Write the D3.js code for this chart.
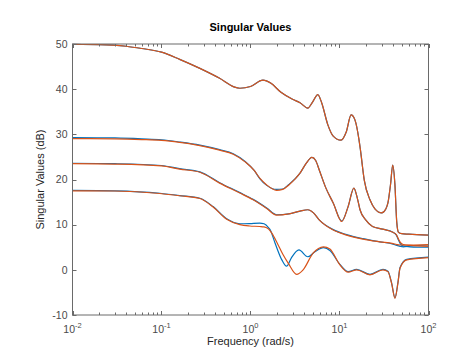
<!DOCTYPE html>
<html><head><meta charset="utf-8">
<script src="https://cdn.jsdelivr.net/npm/d3@7"></script>
<style>body{margin:0;background:#fff}</style>
</head><body>
<svg id="c" width="474" height="355"></svg>
<script>
// ---- data ----
const yTicks = [-10, 0, 10, 20, 30, 40, 50];
const xTicks = [0.01, 0.1, 1, 10, 100];
const xTickExp = ["-2", "-1", "0", "1", "2"];

// curve 1 (top)
const f1 = [0.01,0.02,0.04,0.06,0.1,0.16,0.27,0.45,0.65,0.76,1.0,1.38,1.7,2.2,3.0,3.6,4.4,5.0,5.7,6.3,7.4,8.5,10.4,11.9,13.5,14.9,16.5,17.2,19,22,25,29.8,33,35,37.5,39.6,41.9,44,46,50,60,100];
const s1Blue   = [49.9,49.85,49.5,49.0,48.2,46.6,44.6,42.4,40.5,40.2,40.6,42.0,41.3,39.3,37.7,37.0,35.8,37.2,38.8,37.0,32.1,29.6,28.7,30.5,34.3,33.2,29.0,26.5,19.8,15.5,13.5,12.6,13.4,14.8,19.0,23.2,19.0,10.5,8.3,8.0,7.9,7.7];
const s1Orange = [49.9,49.85,49.5,49.0,48.2,46.6,44.6,42.4,40.5,40.2,40.6,42.0,41.3,39.3,37.7,37.0,35.8,37.2,38.8,37.0,32.1,29.6,28.7,30.5,34.3,33.2,29.0,26.5,19.8,15.5,13.5,12.6,13.4,14.8,19.0,23.2,19.0,10.5,8.3,8.0,7.9,7.7];

// curve 2
const f2 = [0.01,0.03,0.06,0.1,0.16,0.27,0.45,0.64,0.87,1.1,1.27,1.52,1.96,2.3,2.7,3.6,4.2,4.9,5.4,5.95,7,8.5,10.6,12.5,14.5,15.8,17,19.8,23.5,30.5,39.8,43.5,46,48.5,52,62,100];
const s2Blue   = [29.3,29.2,29.0,28.8,28.3,27.6,26.6,25.7,24.0,22.0,20.2,18.7,17.8,17.9,18.9,21.4,23.5,24.9,24.2,22.0,18.2,14.8,10.8,14.0,18.1,16.0,13.3,11.0,9.6,9.0,8.3,7.7,6.6,5.7,5.3,5.1,5.0];
const s2Orange = [29.05,29.0,28.85,28.65,28.2,27.5,26.5,25.6,23.9,22.0,20.3,18.8,17.6,17.8,18.8,21.4,23.5,24.9,24.2,22.0,18.2,14.8,10.7,14.0,18.1,16.0,13.3,11.0,9.6,9.0,8.3,7.8,6.8,6.0,5.6,5.4,5.2];

// curve 3
const f3 = [0.01,0.03,0.1,0.16,0.27,0.45,0.76,1.07,1.52,1.96,2.7,3.6,4.4,5.1,5.95,8.5,12,18.4,28.4,40,44,48,52,62,100];
const s3Blue   = [23.6,23.5,23.1,22.4,21.7,19.3,17.1,15.6,13.7,12.2,12.4,13.0,13.3,12.6,11.0,8.9,7.8,6.9,6.2,5.7,5.4,5.2,5.1,5.3,5.5];
const s3Orange = [23.5,23.4,23.0,22.3,21.6,19.2,17.0,15.5,13.6,12.1,12.4,13.0,13.3,12.6,11.0,8.8,7.7,6.8,6.2,5.8,5.6,5.5,5.5,5.5,5.6];

// curve 4
const f4Blue = [0.01,0.03,0.096,0.16,0.27,0.38,0.54,0.76,0.98,1.27,1.42,1.6,1.67,1.89,2.25,2.54,2.87,3.5,4.4,5.3,6.6,7.8,10.1,12.5,15.6,22,30.8,35,38.5,42,45.3,47.9,57,100];
const s4Blue = [17.6,17.5,16.95,16.45,15.85,14.0,11.3,10.2,10.25,10.35,10.2,9.3,8.8,5.9,2.2,0.8,2.6,4.4,2.9,4.0,4.9,4.3,1.2,-0.4,0.1,-1.0,0.1,-0.3,-2.9,-6.2,-2.9,0.5,2.3,2.8];
const f4Orange = [0.01,0.03,0.096,0.16,0.27,0.38,0.54,0.76,0.98,1.27,1.42,1.6,1.75,2.0,2.3,2.65,3.3,3.9,5.05,6.6,7.8,10.1,12.5,15.6,22,30.8,35,38.5,42,45.3,47.9,57,100];
const s4Orange = [17.5,17.45,16.9,16.4,15.8,13.9,11.2,10.0,9.7,9.6,9.5,9.0,8.0,5.9,3.5,1.5,-1.0,0.0,3.7,5.1,4.6,1.1,-0.5,0.0,-1.1,0.0,-0.4,-3.0,-6.3,-3.0,0.4,2.2,2.7];

const blueColor = "#0072BD", orangeColor = "#D95319";

// ---- layout ----
const L = 72.5, R = 428.5, T = 44, B = 315;
const svg = d3.select("#c");
const x = d3.scaleLog().domain([0.01, 100]).range([L, R]);
const y = d3.scaleLinear().domain([-10, 50]).range([B, T]);
const font = "'Liberation Sans', Arial, Helvetica, sans-serif";
const axisColor = "#6a6a6a", textColor = "#4a4a4a";

// lines
const line = d3.line().x(d => x(d[0])).y(d => y(d[1])).curve(d3.curveMonotoneX);
const zip = (f, v) => f.map((fv, i) => [fv, v[i]]);
const blueSeries = [zip(f1, s1Blue), zip(f2, s2Blue), zip(f3, s3Blue), zip(f4Blue, s4Blue)];
const orangeSeries = [zip(f1, s1Orange), zip(f2, s2Orange), zip(f3, s3Orange), zip(f4Orange, s4Orange)];
const g = svg.append("g");
g.selectAll("path.b").data(blueSeries).join("path").attr("class","b")
  .attr("d", line).attr("fill","none").attr("stroke", blueColor).attr("stroke-width", 1.2);
g.selectAll("path.o").data(orangeSeries).join("path").attr("class","o")
  .attr("d", line).attr("fill","none").attr("stroke", orangeColor).attr("stroke-width", 1.2);

// axes box
svg.append("rect").attr("x", L).attr("y", T).attr("width", R - L).attr("height", B - T)
  .attr("fill","none").attr("stroke", axisColor).attr("stroke-width", 1);

// x ticks (major + minor), inward on bottom and top
const minor = [];
for (let e = -2; e < 2; e++) for (let k = 2; k <= 9; k++) minor.push(k * Math.pow(10, e));
const tk = svg.append("g").attr("stroke", axisColor).attr("stroke-width", 1);
xTicks.forEach(v => {
  const px = Math.round(x(v)) + 0.5;
  tk.append("line").attr("x1", px).attr("x2", px).attr("y1", B).attr("y2", B - 4);
  tk.append("line").attr("x1", px).attr("x2", px).attr("y1", T).attr("y2", T + 4);
});
minor.forEach(v => {
  const px = Math.round(x(v)) + 0.5;
  tk.append("line").attr("x1", px).attr("x2", px).attr("y1", B).attr("y2", B - 2.5);
  tk.append("line").attr("x1", px).attr("x2", px).attr("y1", T).attr("y2", T + 2.5);
});
yTicks.forEach(v => {
  const py = Math.round(y(v)) + 0.5;
  tk.append("line").attr("x1", L).attr("x2", L + 4).attr("y1", py).attr("y2", py);
  tk.append("line").attr("x1", R).attr("x2", R - 4).attr("y1", py).attr("y2", py);
});

// y tick labels
svg.append("g").selectAll("text").data(yTicks).join("text")
  .attr("x", L - 5).attr("y", d => y(d) + 3.8).attr("text-anchor","end")
  .attr("font-family", font).attr("font-size", 10.5).attr("fill", textColor)
  .text(d => d);

// x tick labels with superscripts
const xl = svg.append("g");
xTicks.forEach((v, i) => {
  const t = xl.append("text").attr("x", x(v)).attr("y", 333).attr("text-anchor","middle")
    .attr("font-family", font).attr("font-size", 10.5).attr("fill", textColor);
  t.append("tspan").text("10");
  t.append("tspan").attr("dy", -5).attr("font-size", 7.5).text(xTickExp[i]);
});

// title and axis labels
svg.append("text").attr("x", (L + R) / 2).attr("y", 31).attr("text-anchor","middle")
  .attr("font-family", font).attr("font-size", 11).attr("font-weight","bold").attr("fill","#000")
  .text("Singular Values");
svg.append("text").attr("x", (L + R) / 2).attr("y", 345).attr("text-anchor","middle")
  .attr("font-family", font).attr("font-size", 11).attr("fill", "#262626")
  .text("Frequency (rad/s)");
svg.append("text").attr("transform", `translate(44,${(T + B) / 2}) rotate(-90)`)
  .attr("text-anchor","middle")
  .attr("font-family", font).attr("font-size", 11).attr("fill", "#262626")
  .text("Singular Values (dB)");
</script>
</body></html>
